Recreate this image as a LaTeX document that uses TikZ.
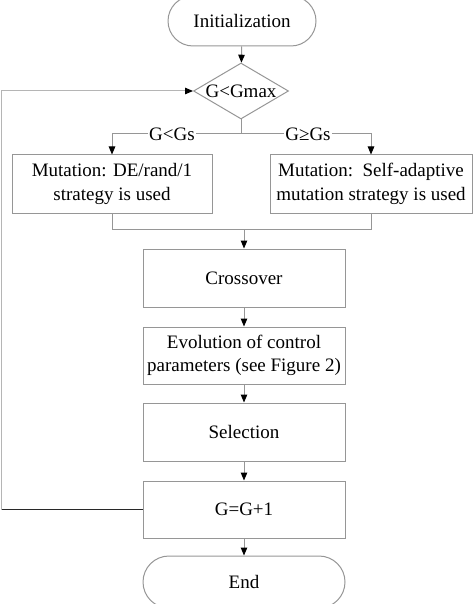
\documentclass[tikz,border=0pt]{standalone}
\usepackage{fontspec}
\setmainfont{Liberation Serif}
\usetikzlibrary{shapes.geometric,arrows.meta}
\definecolor{lc}{RGB}{150,150,150}
\definecolor{dk}{RGB}{40,40,40}
\tikzset{
  boxst/.style={draw=lc, line width=1pt, minimum width=202pt, minimum height=58pt, align=center, inner sep=2pt},
  termst/.style={draw=lc, line width=1pt, align=center},
  diast/.style={draw=lc, line width=1pt, diamond, minimum width=95pt, minimum height=56pt, inner sep=0pt},
  conn/.style={draw=lc, line width=1pt, -{Triangle[length=8pt,width=6.5pt,color=black]}},
  plain/.style={draw=lc, line width=1pt},
  lbl/.style={fill=white, inner sep=1pt}
}
\begin{document}
\begin{tikzpicture}[x=1pt,y=-1pt,font=\fontsize{19}{23.5}\selectfont]
\useasboundingbox (0,0) rectangle (474,604);
\node[termst, minimum width=148pt, minimum height=50pt, rounded corners=25pt] (init) at (242,21) {Initialization};
\node[diast] (dec) at (241,91) {};
\node (dect) at (241,91) {G<Gmax};
\node[boxst, minimum width=200pt] (m1) at (112,184) {Mutation: DE/rand/1\\strategy is used};
\node[boxst] (m2) at (371,184) {Mutation:\ \ Self-adaptive\\mutation strategy is used};
\node[boxst] (cr) at (244,278) {Crossover};
\node[boxst, minimum height=57pt] (ev) at (244,355.5) {Evolution of control\\parameters (see Figure 2)};
\node[boxst] (se) at (244,432) {Selection};
\node[boxst, minimum height=57pt] (gg) at (244,509.5) {G=G+1};
\node[termst, minimum width=202pt, minimum height=52pt, rounded corners=26pt] (en) at (244,582) {End};

\coordinate (br) at (241,134);
\coordinate (jn) at (244,229);
\coordinate (lp) at (1,509.5);

\draw[conn] (init) -- (dec);
\draw[plain] (dec.south) -- (br);
\draw[conn] (br) -| (m1.north);
\draw[conn] (br) -| (m2.north);
\node[lbl] (l1) at (172,134) {G<Gs};
\node[lbl] (l2) at (308,134) {G≥Gs};
\draw[plain] (m1.south) |- (jn);
\draw[plain] (m2.south) |- (jn);
\draw[conn] (jn) -- (cr.north);
\draw[conn] (cr) -- (ev);
\draw[conn] (ev) -- (se);
\draw[conn] (se) -- (gg);
\draw[conn] (gg) -- (en);
\draw[draw=dk, line width=1pt] (gg.west) -- (lp);
\draw[conn, draw=lc!70] (lp) |- (dec.west);
\end{tikzpicture}
\end{document}
